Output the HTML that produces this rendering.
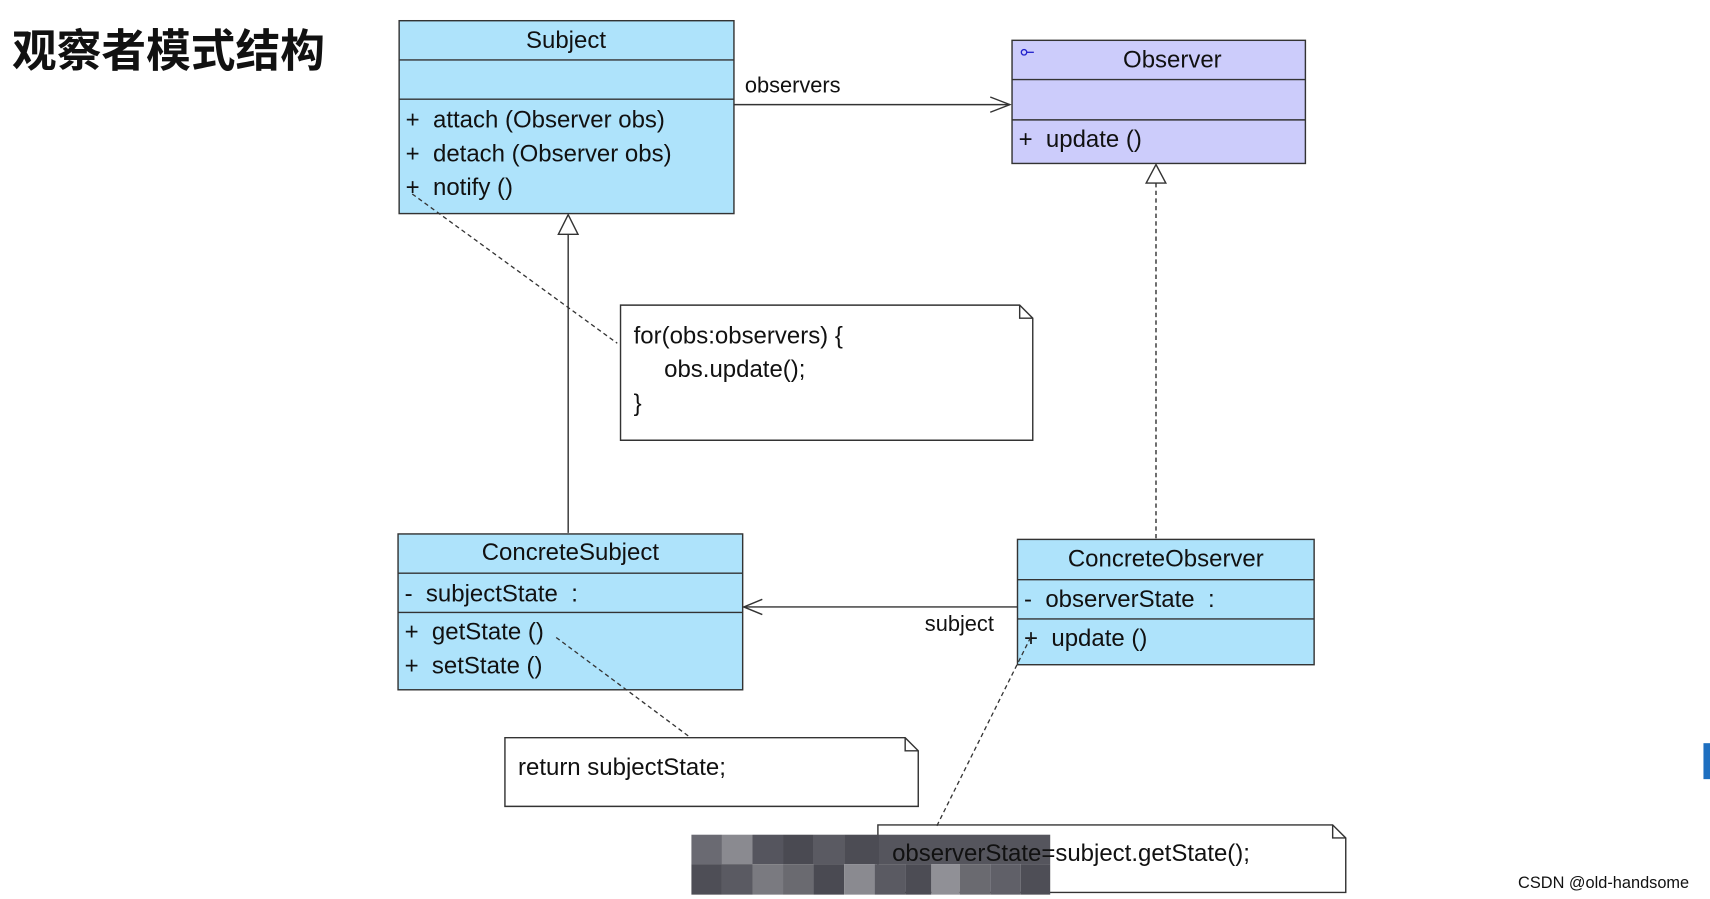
<!DOCTYPE html>
<html><head><meta charset="utf-8"><style>
html,body{margin:0;padding:0;background:#fff;width:1710px;height:899px;overflow:hidden}
svg{display:block}
text{font-family:"Liberation Sans","Noto Sans CJK SC",sans-serif;fill:#111}
</style></head><body>
<svg width="1710" height="899" viewBox="0 0 1568 825" preserveAspectRatio="none" xmlns="http://www.w3.org/2000/svg">
<text x="11" y="61" font-size="41" font-weight="bold" style="font-family:'Noto Sans CJK SC',sans-serif">观察者模式结构</text>

<!-- Subject -->
<g stroke="#333" stroke-width="1.3">
<rect x="366" y="19" width="307" height="177" fill="#aee3fb"/>
<line x1="366" y1="55" x2="673" y2="55"/><line x1="366" y1="91" x2="673" y2="91"/>
</g>
<text x="519" y="44" font-size="22" text-anchor="middle">Subject</text>
<text x="372" y="117" font-size="22">+ &#160;attach (Observer obs)</text>
<text x="372" y="148" font-size="22">+ &#160;detach (Observer obs)</text>
<text x="372" y="179" font-size="22">+ &#160;notify ()</text>

<!-- Observer -->
<g stroke="#333" stroke-width="1.3">
<rect x="928" y="37" width="269" height="113" fill="#ccccfb"/>
<line x1="928" y1="73" x2="1197" y2="73"/><line x1="928" y1="110" x2="1197" y2="110"/>
</g>
<circle cx="939" cy="48" r="2.5" fill="none" stroke="#22c" stroke-width="1.2"/><line x1="941" y1="48" x2="948" y2="48" stroke="#22c" stroke-width="1.2"/>
<text x="1075" y="62" font-size="22" text-anchor="middle">Observer</text>
<text x="934" y="135" font-size="22">+ &#160;update ()</text>

<!-- association observers -->
<line x1="673" y1="96" x2="926" y2="96" stroke="#333" stroke-width="1.3"/>
<polyline points="908,89 926,96 908,103" fill="none" stroke="#333" stroke-width="1.3"/>
<text x="683" y="85" font-size="20" fill="#333">observers</text>

<!-- generalization -->
<line x1="521" y1="489" x2="521" y2="215" stroke="#333" stroke-width="1.3"/>
<polygon points="521,197 512,215 530,215" fill="#fff" stroke="#333" stroke-width="1.3"/>

<!-- realization -->
<line x1="1060" y1="494" x2="1060" y2="168" stroke="#333" stroke-width="1.3" stroke-dasharray="4,3"/>
<polygon points="1060,151 1051,168 1069,168" fill="#fff" stroke="#333" stroke-width="1.3"/>

<!-- note 1 -->
<path d="M569,280 H935 L947,292 V404 H569 Z" fill="#fff" stroke="#333" stroke-width="1.3"/>
<path d="M935,280 V292 H947" fill="none" stroke="#333" stroke-width="1.3"/>
<text x="581" y="315" font-size="22">for(obs:observers) {</text>
<text x="609" y="346" font-size="22">obs.update();</text>
<text x="581" y="377" font-size="22">}</text>
<line x1="378" y1="178" x2="566" y2="315" stroke="#333" stroke-width="1.2" stroke-dasharray="4,3"/>

<!-- ConcreteSubject -->
<g stroke="#333" stroke-width="1.3">
<rect x="365" y="490" width="316" height="143" fill="#aee3fb"/>
<line x1="365" y1="526" x2="681" y2="526"/><line x1="365" y1="562" x2="681" y2="562"/>
</g>
<text x="523" y="514" font-size="22" text-anchor="middle">ConcreteSubject</text>
<text x="371" y="552" font-size="22">- &#160;subjectState &#160;:</text>
<text x="371" y="587" font-size="22">+ &#160;getState ()</text>
<text x="371" y="618" font-size="22">+ &#160;setState ()</text>

<!-- ConcreteObserver -->
<g stroke="#333" stroke-width="1.3">
<rect x="933" y="495" width="272" height="115" fill="#aee3fb"/>
<line x1="933" y1="532" x2="1205" y2="532"/><line x1="933" y1="568" x2="1205" y2="568"/>
</g>
<text x="1069" y="520" font-size="22" text-anchor="middle">ConcreteObserver</text>
<text x="939" y="557" font-size="22">- &#160;observerState &#160;:</text>
<text x="939" y="593" font-size="22">+ &#160;update ()</text>

<!-- association subject -->
<line x1="933" y1="557" x2="682" y2="557" stroke="#333" stroke-width="1.3"/>
<polyline points="699,550 682,557 699,564" fill="none" stroke="#333" stroke-width="1.3"/>
<text x="848" y="579" font-size="20" fill="#333">subject</text>

<!-- note 2 -->
<path d="M463,677 H830 L842,689 V740 H463 Z" fill="#fff" stroke="#333" stroke-width="1.3"/>
<path d="M830,677 V689 H842" fill="none" stroke="#333" stroke-width="1.3"/>
<text x="475" y="711" font-size="22">return subjectState;</text>
<line x1="510" y1="585" x2="632" y2="676" stroke="#333" stroke-width="1.2" stroke-dasharray="4,3"/>

<!-- note 3 -->
<path d="M805,757 H1222 L1234,769 V819 H805 Z" fill="#fff" stroke="#333" stroke-width="1.3"/>
<path d="M1222,757 V769 H1234" fill="none" stroke="#333" stroke-width="1.3"/>
<line x1="945" y1="585" x2="858" y2="760" stroke="#333" stroke-width="1.2" stroke-dasharray="4,3"/>
<!-- mosaic -->
<g>
<rect x="634" y="766" width="28" height="27" fill="#6a6a72"/>
<rect x="662" y="766" width="28" height="27" fill="#8a8a90"/>
<rect x="690" y="766" width="28" height="27" fill="#55555e"/>
<rect x="718" y="766" width="28" height="27" fill="#4a4a52"/>
<rect x="746" y="766" width="28" height="27" fill="#5a5a62"/>
<rect x="774" y="766" width="32" height="27" fill="#4c4c54"/>
<rect x="806" y="766" width="157" height="27" fill="#55555d"/>
<rect x="634" y="793" width="28" height="28" fill="#4e4e56"/>
<rect x="662" y="793" width="28" height="28" fill="#5a5a62"/>
<rect x="690" y="793" width="28" height="28" fill="#7a7a80"/>
<rect x="718" y="793" width="28" height="28" fill="#6a6a70"/>
<rect x="746" y="793" width="28" height="28" fill="#4a4a52"/>
<rect x="774" y="793" width="28" height="28" fill="#8a8a90"/>
<rect x="802" y="793" width="28" height="28" fill="#5a5a62"/>
<rect x="830" y="793" width="24" height="28" fill="#4c4c54"/>
<rect x="854" y="793" width="26" height="28" fill="#909096"/>
<rect x="880" y="793" width="28" height="28" fill="#6a6a70"/>
<rect x="908" y="793" width="28" height="28" fill="#606068"/>
<rect x="936" y="793" width="27" height="28" fill="#4e4e56"/>
</g>
<text x="818" y="790" font-size="22">observerState=subject.getState();</text>

<rect x="1562" y="682" width="6" height="33" fill="#1e6fc0"/>
<text x="1392" y="815" font-size="15" fill="#999">CSDN @old-handsome</text>
</svg>
</body></html>
